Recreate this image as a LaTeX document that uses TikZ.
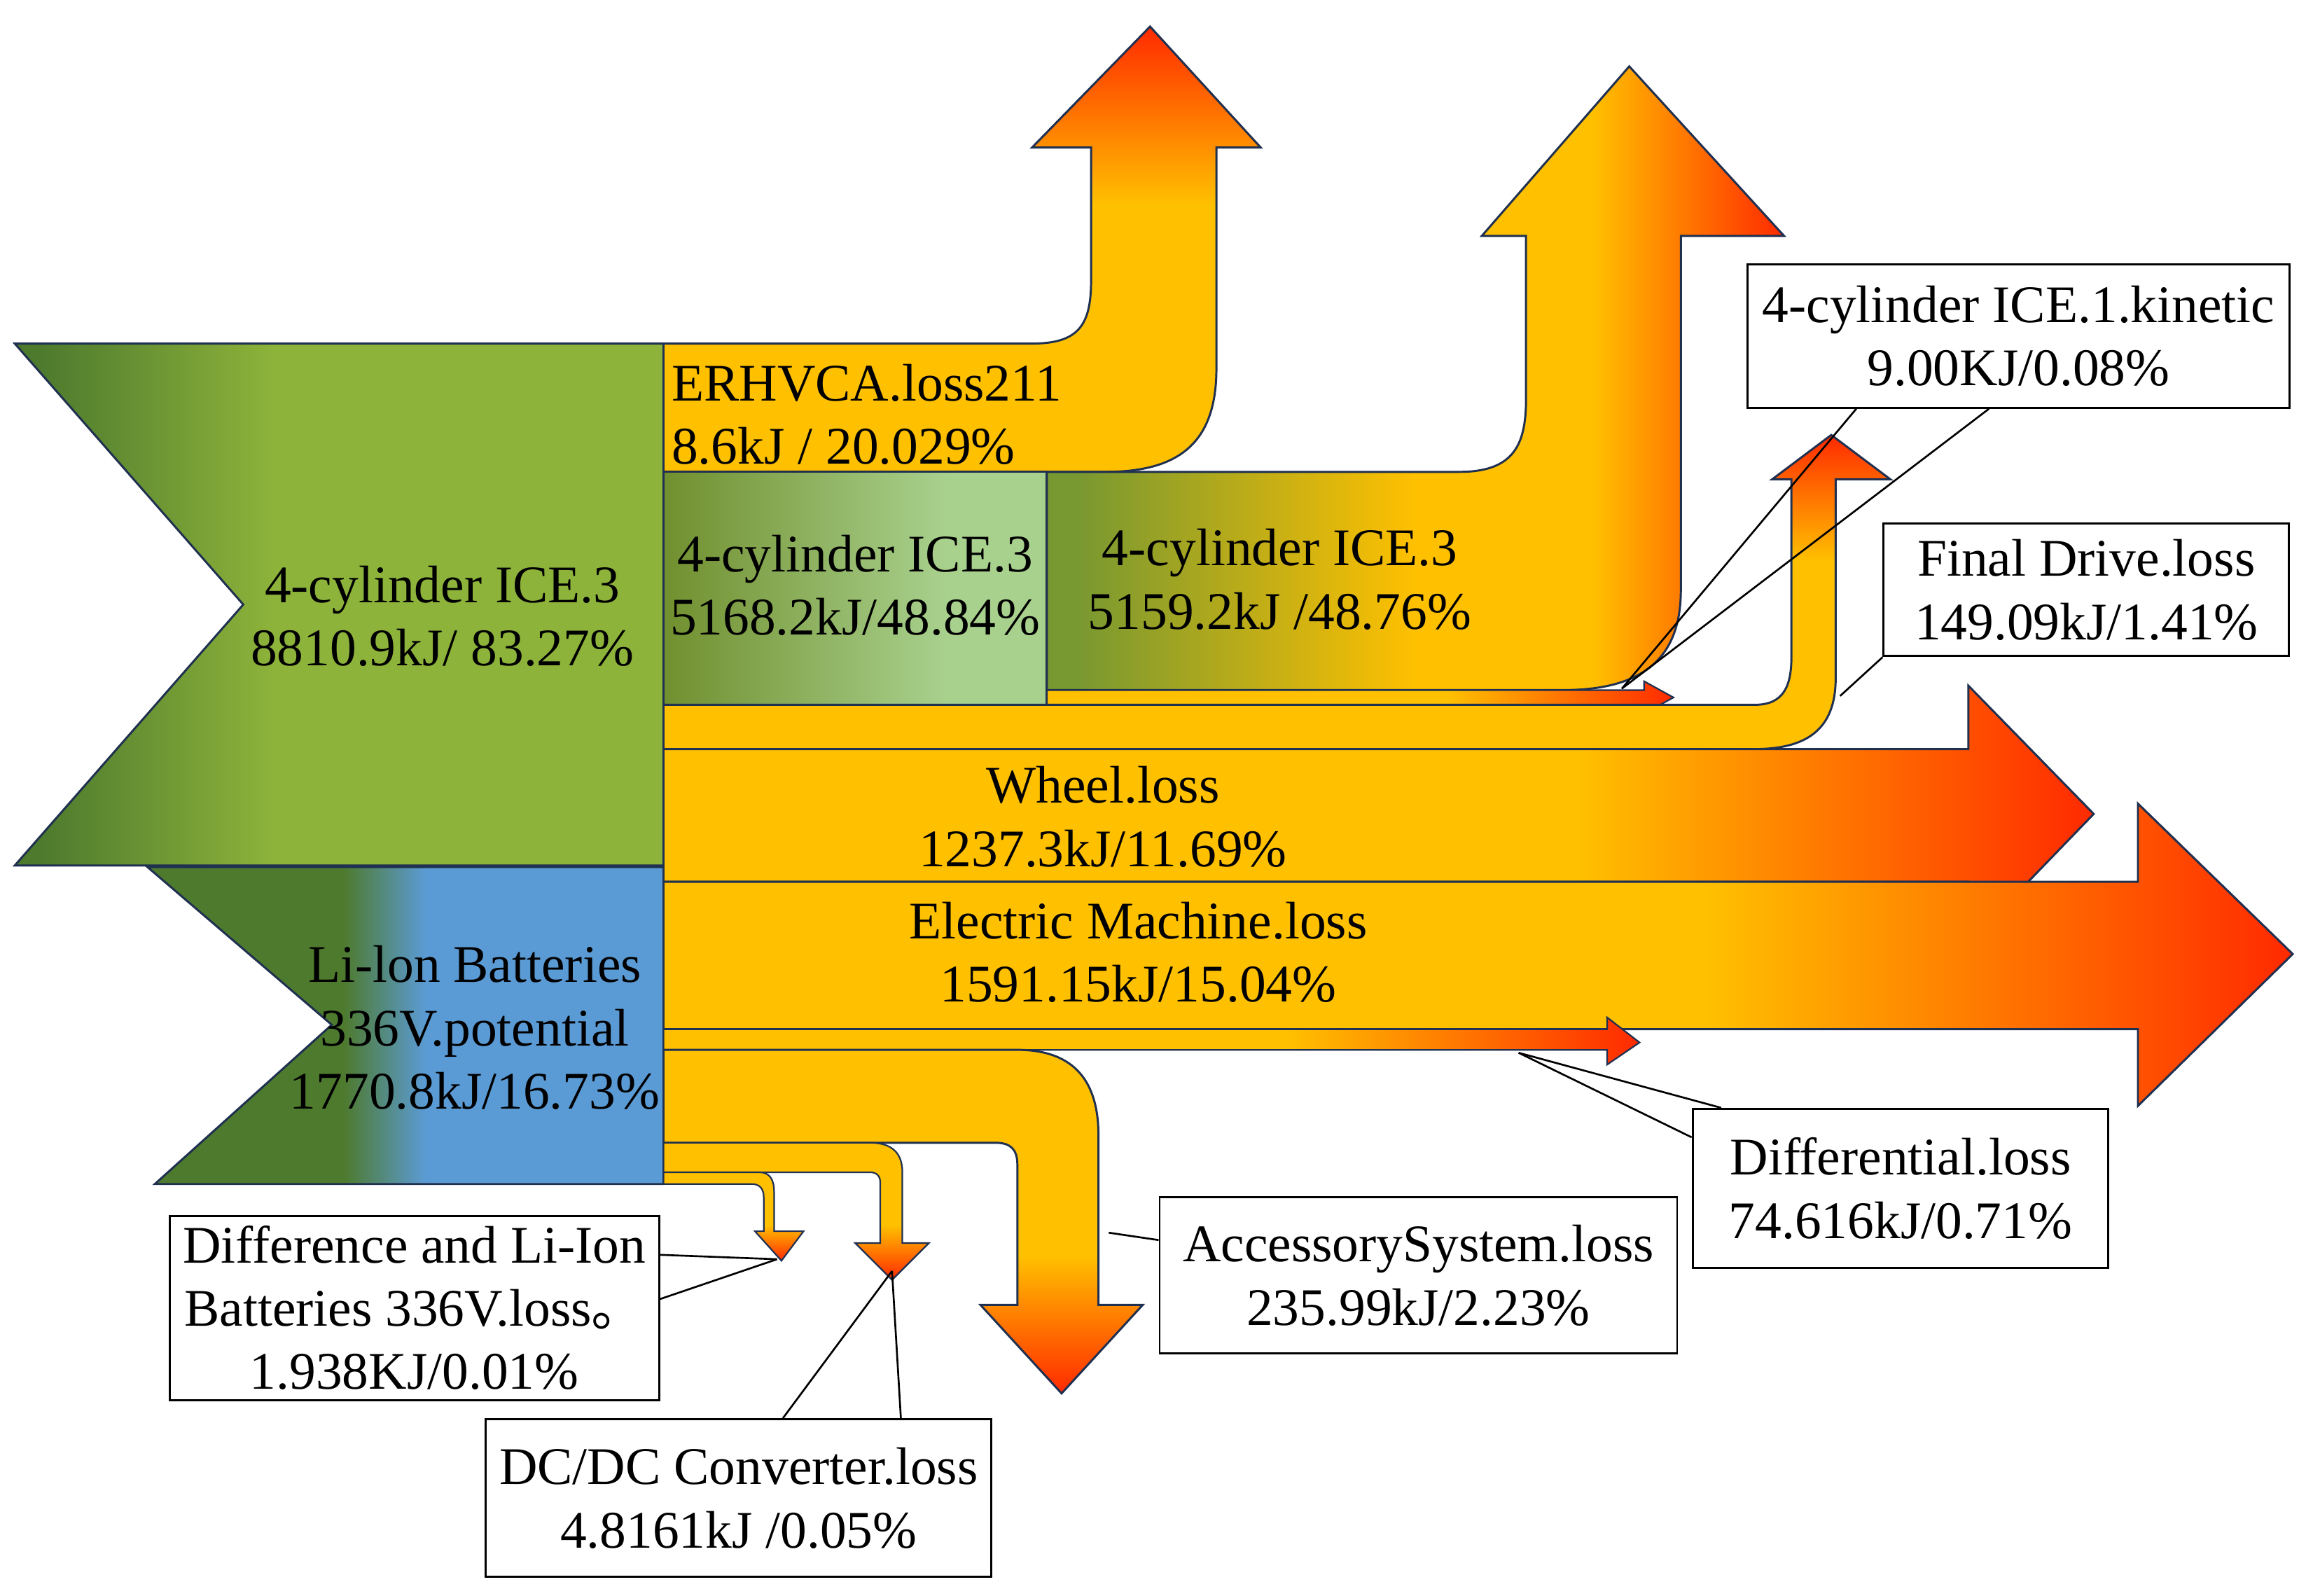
\documentclass[tikz,border=0pt]{standalone}
\usepackage{fontspec}
\setmainfont{Liberation Serif}
\newfontfamily\cjk{Noto Sans CJK SC}
\definecolor{org}{HTML}{FFC000}
\definecolor{rd}{HTML}{FF2A00}
\definecolor{gd}{HTML}{4E7A2E}
\definecolor{gl}{HTML}{8DB33A}
\definecolor{gp}{HTML}{A9D18E}
\definecolor{bl}{HTML}{5B9BD5}
\definecolor{edge}{HTML}{1F3050}
\pgfdeclarehorizontalshading{fh}{100bp}{color(0bp)=(org); color(57bp)=(org); color(75bp)=(rd); color(100bp)=(rd)}
\pgfdeclarehorizontalshading{fice}{100bp}{color(0bp)=(gl!85!black); color(27bp)=(gl!85!black); color(50bp)=(org); color(62bp)=(org); color(75bp)=(rd); color(100bp)=(rd)}
\pgfdeclareverticalshading{fv}{100bp}{color(0bp)=(org); color(55bp)=(org); color(75bp)=(rd); color(100bp)=(rd)}
\pgfdeclarehorizontalshading{fgreen}{100bp}{color(0bp)=(gd); color(27bp)=(gd); color(45bp)=(gl); color(100bp)=(gl)}
\pgfdeclarehorizontalshading{fblue}{100bp}{color(0bp)=(gd); color(44bp)=(gd); color(52bp)=(bl); color(100bp)=(bl)}
\pgfdeclarehorizontalshading{fbox}{100bp}{color(0bp)=(gl!80!black); color(25bp)=(gl!80!black); color(62bp)=(gp); color(100bp)=(gp)}
\tikzset{
  flow/.style={draw=edge, line width=2pt, line join=miter},
  lab/.style={font=\fontsize{51}{61}\selectfont, align=center, inner sep=2pt},
  box/.style={draw=black, fill=white, line width=2pt, font=\fontsize{51}{61}\selectfont, align=center, inner sep=0pt},
  lead/.style={draw=black, line width=1.8pt}
}
\begin{document}
\begin{tikzpicture}[x=0.05cm,y=-0.05cm]
\useasboundingbox (0,0) rectangle (1564,1082);
% sources
\path[flow, shading=fgreen] (10,233) -- (450,233) -- (450,587) -- (10,587) -- (165,410) -- cycle;
\path[flow, shading=fblue] (100,588) -- (450,588) -- (450,803) -- (105,803) -- (225,695) -- cycle;
% ERHVCA
\path[flow, shading=fv] (450,233) -- (700,233) .. controls (732,233) and (740,220) .. (740,190) -- (740,100) -- (700,100) -- (780,18) -- (855,100) -- (825,100) -- (825,250) .. controls (825,300) and (800,320) .. (750,320) -- (450,320) -- cycle;
% ICE box
\path[flow, shading=fbox] (450,320) rectangle (710,478);
% ICE flow
\path[flow, shading=fice] (710,320) -- (990,320) .. controls (1028,320) and (1035,300) .. (1035,270) -- (1035,160) -- (1005,160) -- (1105,45) -- (1210,160) -- (1140,160) -- (1140,400) .. controls (1140,450) and (1110,468) .. (1060,468) -- (710,468) -- cycle;
% kinetic
\path[flow, line width=1.5pt, shading=fh] (710,468) -- (1115,468) -- (1115,462) -- (1135,473) -- (1115,484) -- (1115,478) -- (710,478) -- cycle;
% final drive
\path[flow, shading=fv] (450,478) -- (1190,478) .. controls (1210,478) and (1215,465) .. (1215,445) -- (1215,325) -- (1202,325) -- (1242,295) -- (1282,325) -- (1245,325) -- (1245,460) .. controls (1245,495) and (1225,508) .. (1190,508) -- (450,508) -- cycle;
% wheel
\path[flow, shading=fh] (450,508) -- (1335,508) -- (1335,465) -- (1420,552) -- (1335,640) -- (1335,598) -- (450,598) -- cycle;
% electric machine
\path[flow, shading=fh] (450,598) -- (1450,598) -- (1450,545) -- (1555,647) -- (1450,750) -- (1450,698) -- (450,698) -- cycle;
% differential
\path[flow, line width=1.5pt, shading=fh] (450,698) -- (1090,698) -- (1090,690) -- (1112,707) -- (1090,722) -- (1090,712) -- (450,712) -- cycle;
% accessory
\path[flow, shading=fv, shading angle=180] (450,712) -- (690,712) .. controls (730,712) and (745,735) .. (745,770) -- (745,885) -- (775,885) -- (720,945) -- (665,885) -- (690,885) -- (690,790) .. controls (690,779) and (685,775) .. (675,775) -- (450,775) -- cycle;
% DC/DC
\path[flow, line width=1.5pt, shading=fv, shading angle=180] (450,775) -- (590,775) .. controls (605,775) and (612,782) .. (612,795) -- (612,843) -- (630,843) -- (605,868) -- (580,843) -- (597,843) -- (597,802) .. controls (597,797) and (594,795) .. (590,795) -- (450,795) -- cycle;
% difference
\path[flow, line width=1.5pt, shading=fv, shading angle=180] (450,795) -- (515,795) .. controls (522,795) and (525,800) .. (525,808) -- (525,835) -- (545,835) -- (530,855) -- (512,835) -- (518,835) -- (518,812) .. controls (518,806) and (515,803) .. (510,803) -- (450,803) -- cycle;
% flow labels
\node[lab] (t1) at (300,418) {4-cylinder ICE.3\\8810.9kJ/ 83.27\%};
\node[lab, align=left, anchor=west] (t2) at (454,281) {ERHVCA.loss211\\8.6kJ / 20.029\%};
\node[lab] (t3) at (580,397) {4-cylinder ICE.3\\5168.2kJ/48.84\%};
\node[lab] (t4) at (868,393) {4-cylinder ICE.3\\5159.2kJ /48.76\%};
\node[lab] (t5) at (748,554) {Wheel.loss\\1237.3kJ/11.69\%};
\node[lab] (t6) at (772,646) {Electric Machine.loss\\1591.15kJ/15.04\%};
\node[lab] (t7) at (322,697) {Li-lon Batteries\\336V.potential\\1770.8kJ/16.73\%};
% boxes
\node[box, minimum width=18.4cm, minimum height=4.85cm] (b1) at (1369,228) {4-cylinder ICE.1.kinetic\\9.00KJ/0.08\%};
\node[box, minimum width=13.75cm, minimum height=4.5cm] (b2) at (1415,400) {Final Drive.loss\\149.09kJ/1.41\%};
\node[box, minimum width=14.1cm, minimum height=5.4cm] (b3) at (1289,806) {Differential.loss\\74.616kJ/0.71\%};
\node[box, minimum width=17.55cm, minimum height=5.3cm] (b4) at (962,865) {AccessorySystem.loss\\235.99kJ/2.23\%};
\node[box, minimum width=16.6cm, minimum height=6.25cm] (b5) at (281,887) {Difference and Li-Ion\\Batteries 336V.loss{\cjk 。}\\1.938KJ/0.01\%};
\node[box, minimum width=17.15cm, minimum height=5.35cm] (b6) at (501,1016) {DC/DC Converter.loss\\4.8161kJ /0.05\%};
% leader endpoints
\coordinate (k1) at (1100,467);
\coordinate (f1) at (1248,472);
\coordinate (d1) at (1030,714);
\coordinate (a1) at (752,836);
\coordinate (e1) at (527,854);
\coordinate (c1) at (605,862);
\draw[lead] ([xshift=-5.5cm]b1.south) -- (k1);
\draw[lead] ([xshift=-1cm]b1.south) -- (k1);
\draw[lead] (b2.south west) -- (f1);
\draw[lead] ([yshift=-1cm]b3.north west) -- (d1);
\draw[lead] ([xshift=1cm]b3.north west) -- (d1);
\draw[lead] ([yshift=1.2cm]b4.west) -- (a1);
\draw[lead] ([yshift=1.8cm]b5.east) -- (e1);
\draw[lead] ([yshift=0.3cm]b5.east) -- (e1);
\draw[lead] ([xshift=1.5cm]b6.north) -- (c1);
\draw[lead] ([xshift=5.5cm]b6.north) -- (c1);
\end{tikzpicture}
\end{document}
